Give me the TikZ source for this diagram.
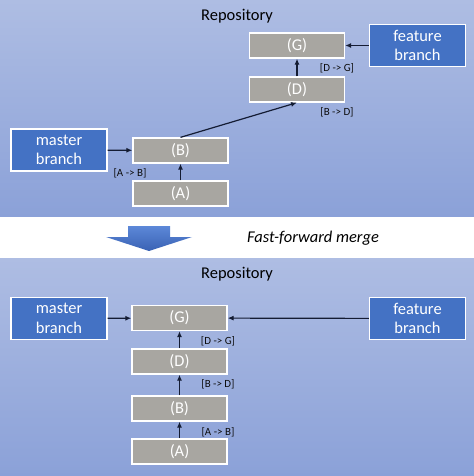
\documentclass[tikz,border=0pt]{standalone}
\usepackage{fontspec}
\setmainfont{Carlito}
\usetikzlibrary{arrows.meta}
\definecolor{bluebox}{HTML}{4472C4}
\definecolor{graybox}{HTML}{A8A6A1}
\definecolor{paneltop}{HTML}{AEBDE3}
\definecolor{panelbot}{HTML}{8BA1D8}
\definecolor{arr}{HTML}{141C33}
\definecolor{arrowtop}{HTML}{5C88D8}
\definecolor{arrowbot}{HTML}{3A62B4}
\begin{document}
\begin{tikzpicture}[x=1bp,y=-1bp,
  commit/.style={draw=white, line width=1.3bp, fill=graybox, text=white, minimum width=95bp, minimum height=25bp, inner sep=0pt, font=\fontsize{16.5}{18}\selectfont},
  branchbox/.style={draw=white, line width=1.3bp, fill=bluebox, text=white, minimum width=96bp, minimum height=42bp, inner sep=0pt, align=center, font=\fontsize{16.5}{19.5}\selectfont},
  lbl/.style={font=\fontsize{11}{12}\selectfont, text=black!95, inner sep=0pt},
  link/.style={draw=arr, line width=1.2bp, -{Latex[length=6bp,width=5bp]}},
  title/.style={font=\fontsize{16.5}{19}\selectfont, text=black, inner sep=0pt}]
\useasboundingbox (0,0) rectangle (474,476);
\fill[white] (0,0) rectangle (474,476);
\shade[top color=paneltop, bottom color=panelbot] (0,0) rectangle (474,217);
\shade[top color=paneltop, bottom color=panelbot] (0,258) rectangle (474,476);

% top panel
\node[title] (rep1) at (237,16) {Repository};
\node[commit] (G1) at (297,45.5) {(G)};
\node[commit] (D1) at (297,89.5) {(D)};
\node[commit] (B1) at (180.5,150.5) {(B)};
\node[commit] (A1) at (180.5,193.5) {(A)};
\node[branchbox] (M1) at (59,150) {master\\branch};
\node[branchbox] (F1) at (417.5,45.5) {feature\\branch};
\node[lbl] (l1) at (337,68) {[D -> G]};
\node[lbl] (l2) at (337,112) {[B -> D]};
\node[lbl] (l3) at (130,173) {[A -> B]};
\draw[link] (A1) -- (B1);
\draw[link] (B1.north) -- (D1.south);
\draw[link] (D1) -- (G1);
\draw[link] (F1) -- (G1);
\draw[link] (M1) -- (B1);

% transition
\shade[top color=arrowtop, bottom color=arrowbot] (128,226) -- (170,226) -- (170,237) -- (192,237) -- (149,251) -- (106,237) -- (128,237) -- cycle;
\node[font=\fontsize{16.5}{19}\selectfont\itshape, text=black, inner sep=0pt] (ff) at (313,238) {Fast-forward merge};

% bottom panel
\node[title] (rep2) at (237,274) {Repository};
\node[commit] (G2) at (179.5,318) {(G)};
\node[commit] (D2) at (179.5,361.5) {(D)};
\node[commit] (B2) at (179.5,408.5) {(B)};
\node[commit] (A2) at (179.5,451.5) {(A)};
\node[branchbox] (M2) at (59,318.5) {master\\branch};
\node[branchbox] (F2) at (417.5,318.5) {feature\\branch};
\node[lbl] (m1) at (218,341) {[D -> G]};
\node[lbl] (m2) at (218,384) {[B -> D]};
\node[lbl] (m3) at (218,432) {[A -> B]};
\draw[link] (A2) -- (B2);
\draw[link] (B2) -- (D2);
\draw[link] (D2) -- (G2);
\draw[link] (F2) -- (G2);
\draw[link] (M2) -- (G2);
\end{tikzpicture}
\end{document}
